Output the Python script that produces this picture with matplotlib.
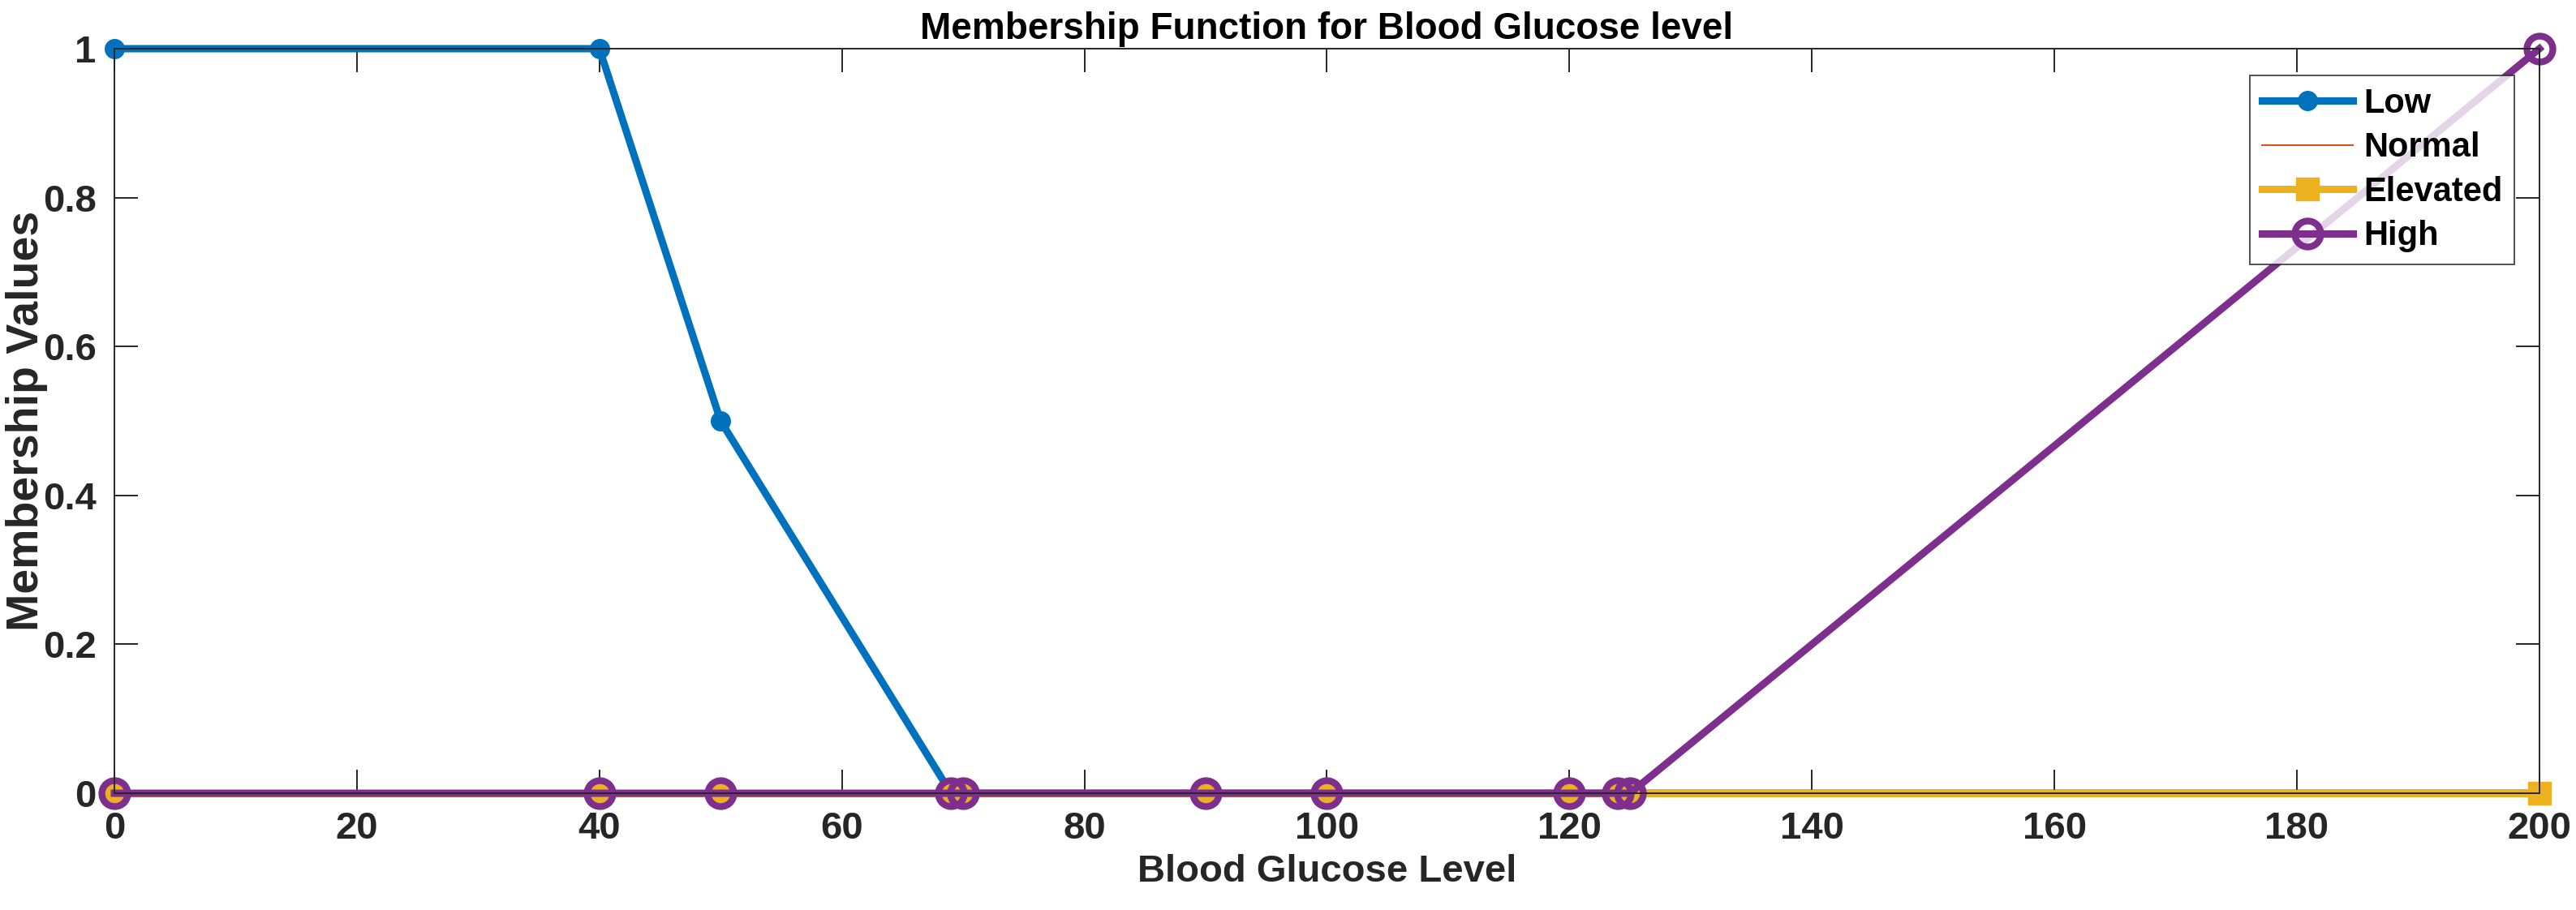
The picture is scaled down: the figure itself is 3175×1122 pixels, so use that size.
import numpy as np
import matplotlib.pyplot as plt

# Dados
glucose = [0, 40, 50, 69, 70, 90, 100, 120, 124, 125, 200]
low = [1, 1, 0.5, 0, 0, 0, 0, 0, 0, 0, 0]
normal = [0, 0, 0, 0, 0, 0, 0, 0, 0, 0, 0]
elevated = [0, 0, 0, 0, 0, 0, 0, 0, 0, 0, 0]
high = [0, 0, 0, 0, 0, 0, 0, 0, 0, 0, 1]
xticks = list(range(0, 201, 20))
yticks = [0, 0.2, 0.4, 0.6, 0.8, 1]

plt.rcParams['font.family'] = ['Liberation Sans', 'DejaVu Sans']
plt.rcParams['font.weight'] = 'bold'

fig = plt.figure(figsize=(31.75, 11.22), dpi=100)
ax = fig.add_axes([0.0444, 0.1283, 0.9414, 0.8182])

gray = '#262626'
ax.plot(glucose, low, '-o', color='#0072BD', lw=6.5, ms=17, label='Low',
        clip_on=False)
ax.plot(glucose, normal, '-', color='#D95319', lw=1.5, label='Normal',
        clip_on=False)
ax.plot(glucose, elevated, '-s', color='#EDB120', lw=6.5, ms=20,
        label='Elevated', clip_on=False)
ax.plot(glucose, high, '-o', color='#7E2F8E', lw=6.5, ms=23, mew=6,
        mfc='none', label='High', clip_on=False)

ax.set_xlim(0, 200)
ax.set_ylim(0, 1)
ax.set_xticks(xticks)
ax.set_yticks(yticks)
ax.set_yticklabels(['0', '0.2', '0.4', '0.6', '0.8', '1'])
ax.tick_params(direction='in', length=21, width=1.4, colors=gray,
               labelsize=34, top=True, right=True)
ax.tick_params(axis='x', pad=16)
ax.tick_params(axis='y', pad=16)
for s in ax.spines.values():
    s.set_color(gray)
    s.set_linewidth(1.4)
for lab in ax.get_xticklabels() + ax.get_yticklabels():
    lab.set_fontweight('bold')

ax.set_title('Membership Function for Blood Glucose level', fontsize=33,
             fontweight='bold', pad=9)
ax.set_xlabel('Blood Glucose Level', fontsize=34, fontweight='bold',
              color=gray, labelpad=6)
ax.set_ylabel('Membership Values', fontsize=40, fontweight='bold',
              color=gray)
ax.yaxis.set_label_coords(-0.0275, 0.5)

leg = ax.legend(loc='upper right', bbox_to_anchor=(0.9896, 0.9641),
                fontsize=30, frameon=True, fancybox=False, handlelength=2.7,
                borderpad=0.35, labelspacing=0.35, handletextpad=0.3,
                borderaxespad=0)
leg.get_frame().set_edgecolor(gray)
leg.get_frame().set_linewidth(1.4)
for t in leg.get_texts():
    t.set_fontweight('bold')

fig.savefig('out.png', dpi=100)
